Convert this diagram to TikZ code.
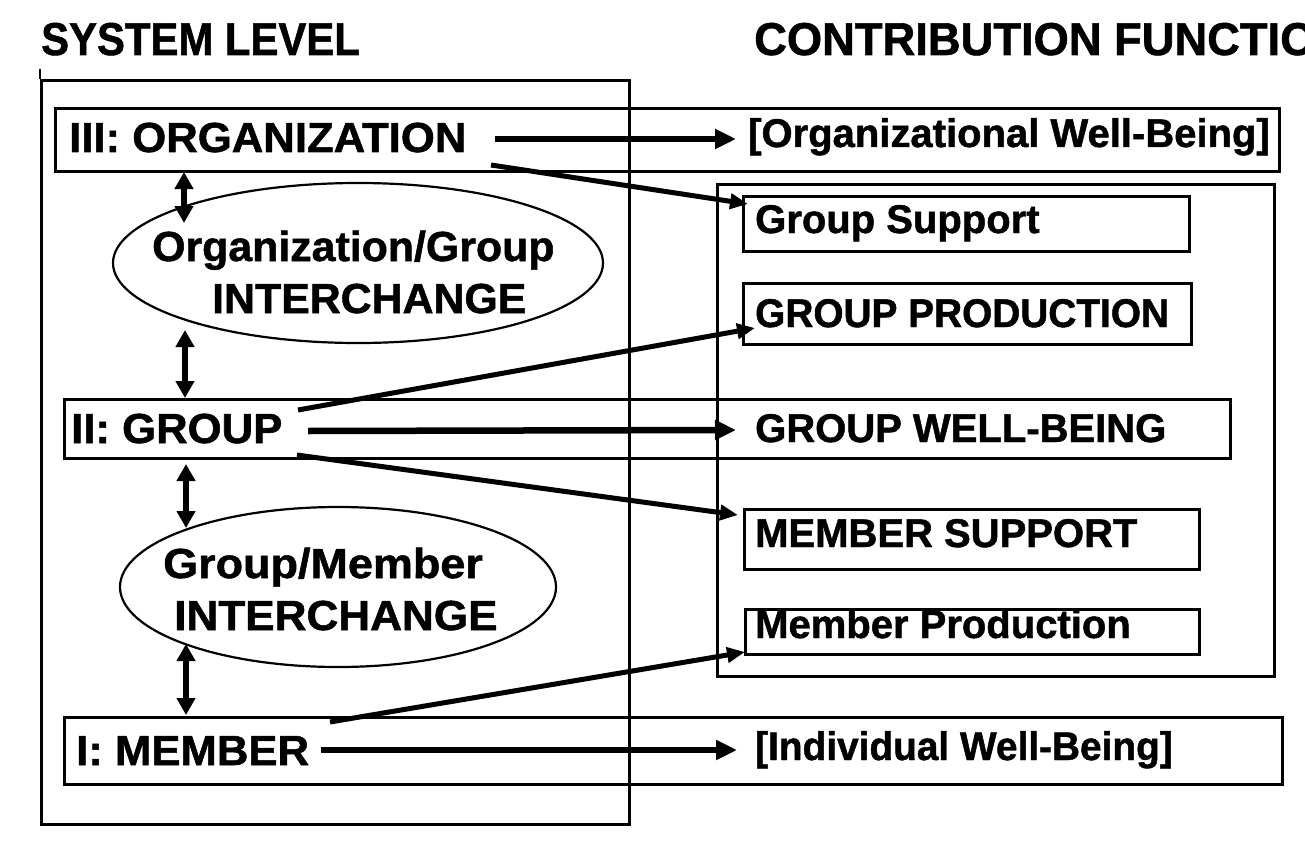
\documentclass[tikz,border=0pt]{standalone}
\usepackage{fontspec}
\usepackage{graphicx}
\setmainfont{Liberation Sans Bold}[FakeBold=1.2]
\usetikzlibrary{arrows.meta,shapes.geometric}
\newcommand{\tsx}[2]{\scalebox{#1}[1]{#2}}
\begin{document}
\begin{tikzpicture}[x=1pt,y=-1pt,
  frame/.style={draw, line width=2.6pt, inner sep=0pt, anchor=north west},
  lbl/.style={inner sep=0pt, anchor=base west, font=\fontsize{40}{44}\selectfont},
  lft/.style={lbl, font=\fontsize{42}{46}\selectfont},
  ttl/.style={lbl, font=\fontsize{46}{50}\selectfont},
  harr/.style={line width=6.5pt, -{Triangle[length=21pt,width=19pt]}},
  darr/.style={line width=5pt, -{Triangle[length=18pt,width=15pt]}},
  varr/.style={line width=5.5pt, {Triangle[length=17pt,width=18pt]}-{Triangle[length=17pt,width=18pt]}},
  oval/.style={draw, ellipse, line width=2.2pt, inner sep=0pt}
]
\useasboundingbox (0,0) rectangle (1305,845);
\clip (0,0) rectangle (1305,845);

% titles
\node[ttl] (tsys) at (41,55) {\tsx{0.91}{SYSTEM LEVEL}};
\node[ttl] (tcon) at (754,55) {\tsx{0.985}{CONTRIBUTION FUNCTION}};

% frames
\node[frame, minimum width=588pt, minimum height=744pt] (big) at (40,79) {};
\draw[line width=2.6pt] (big.north west) -- ++(0,-10);
\node[frame, minimum width=1224pt, minimum height=63pt] (r3) at (54,107) {};
\node[frame, minimum width=557pt, minimum height=492pt] (inner) at (716,183) {};
\node[frame, minimum width=446pt, minimum height=55pt] (gsB) at (742,195) {};
\node[frame, minimum width=448pt, minimum height=61pt] (gpB) at (742,282) {};
\node[frame, minimum width=1166pt, minimum height=59pt] (r2) at (63,398) {};
\node[frame, minimum width=455pt, minimum height=60pt] (msB) at (743,508) {};
\node[frame, minimum width=454pt, minimum height=45pt] (mpB) at (744,608) {};
\node[frame, minimum width=1218pt, minimum height=67pt] (r1) at (63,716) {};

% ellipses
\node[oval, minimum width=490pt, minimum height=160pt] (e1) at (358,263) {};
\node[oval, minimum width=436pt, minimum height=160pt] (e2) at (338,587) {};

% left texts
\node[lft] (t3) at (69,152) {\tsx{1.04}{III: ORGANIZATION}};
\node[lft] (t2) at (71,443) {\tsx{1.04}{II: GROUP}};
\node[lft] (t1) at (76,765) {\tsx{1.04}{I: MEMBER}};
\node[lft] (e1a) at (152,261) {\tsx{1.02}{Organization/Group}};
\node[lft] (e1b) at (212,313) {\tsx{1.02}{INTERCHANGE}};
\node[lft] (e2a) at (163,578) {\tsx{1.07}{Group/Member}};
\node[lft] (e2b) at (174,630) {\tsx{1.05}{INTERCHANGE}};

% right texts
\node[lbl] (w3) at (748,147) {[Organizational Well-Being]};
\node[lbl] (gs) at (755,233) {Group Support};
\node[lbl] (gp) at (755,327) {\tsx{0.97}{GROUP PRODUCTION}};
\node[lbl] (gw) at (755,442) {GROUP WELL-BEING};
\node[lbl] (ms) at (755,547) {MEMBER SUPPORT};
\node[lbl] (mp) at (755,638) {Member Production};
\node[lbl] (w1) at (755,760) {\tsx{0.97}{[Individual Well-Being]}};

% connector end points
\coordinate (a1s) at (495,139); \coordinate (a1e) at (736,139);
\coordinate (a2s) at (491,165); \coordinate (a2e) at (748,204);
\coordinate (a3s) at (298,410); \coordinate (a3e) at (755,328);
\coordinate (a4s) at (308,431); \coordinate (a4e) at (736,430);
\coordinate (a5s) at (297,455); \coordinate (a5e) at (738,515);
\coordinate (a6s) at (330,722); \coordinate (a6e) at (745,652);
\coordinate (a7s) at (321,750); \coordinate (a7e) at (737,750);

\draw[harr] (a1s) -- (a1e);
\draw[darr] (a2s) -- (a2e);
\draw[darr] (a3s) -- (a3e);
\draw[harr] (a4s) -- (a4e);
\draw[darr] (a5s) -- (a5e);
\draw[darr] (a6s) -- (a6e);
\draw[harr] (a7s) -- (a7e);

% vertical double arrows
\coordinate (v1a) at (184,172); \coordinate (v1b) at (184,223);
\coordinate (v2a) at (185,330); \coordinate (v2b) at (185,398);
\coordinate (v3a) at (186,464); \coordinate (v3b) at (186,528);
\coordinate (v4a) at (186,644); \coordinate (v4b) at (186,715);
\draw[varr] (v1a) -- (v1b);
\draw[varr] (v2a) -- (v2b);
\draw[varr] (v3a) -- (v3b);
\draw[varr] (v4a) -- (v4b);
\end{tikzpicture}
\end{document}
